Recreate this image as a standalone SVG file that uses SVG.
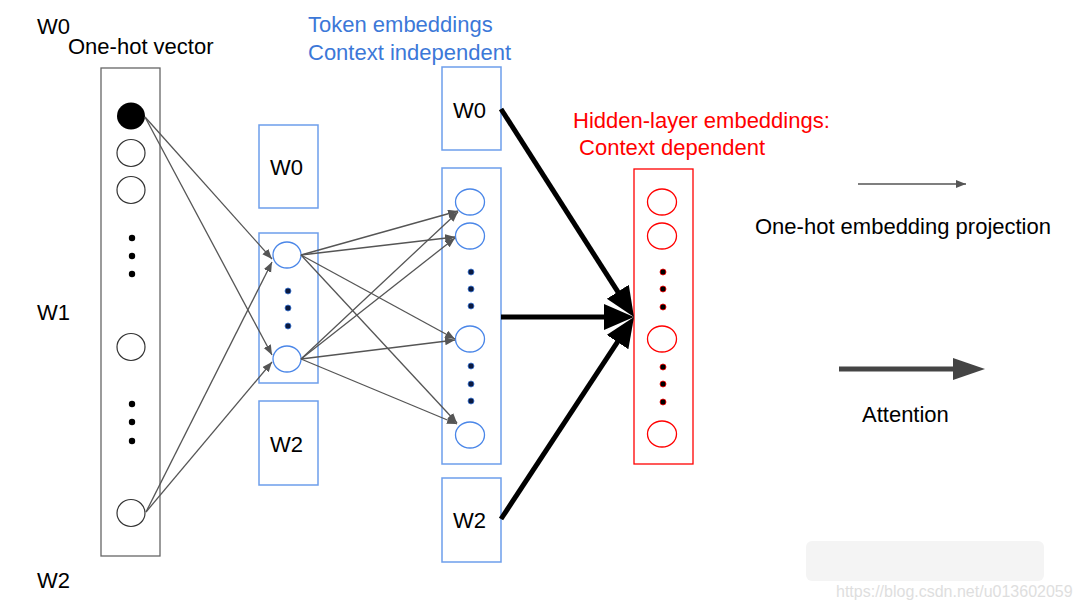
<svg xmlns="http://www.w3.org/2000/svg" width="1080" height="611" viewBox="0 0 1080 611">
<defs>
<style>
text{font-family:"Liberation Sans",Arial,sans-serif;font-size:22px;fill:#000}
.blue{fill:#3c78d8}
.red{fill:#ff0000}
.boxk{fill:none;stroke:#666;stroke-width:1.3}
.boxb{fill:#fff;stroke:#6d9eeb;stroke-width:1.5}
.boxr{fill:#fff;stroke:#ff0000;stroke-width:1.3}
.ck{fill:#fff;stroke:#333;stroke-width:1.2}
.cb{fill:#fff;stroke:#4a86e8;stroke-width:1.3}
.cr{fill:#fff;stroke:#ff0000;stroke-width:1.3}
.dk{fill:#000}
.db{fill:#0b1a40;stroke:#3c78d8;stroke-width:0.8}
.dr{fill:#000;stroke:#ff0000;stroke-width:0.8}
.thin{fill:none;stroke:#555;stroke-width:1.3;marker-end:url(#ah)}
.thick{fill:none;stroke:#000;stroke-width:5;marker-end:url(#bh)}
</style>
<marker id="ah" markerUnits="userSpaceOnUse" markerWidth="11" markerHeight="9" refX="10" refY="4" orient="auto">
<path d="M0,0 L10,4 L0,8 z" fill="#555"/>
</marker>
<marker id="bh" markerUnits="userSpaceOnUse" markerWidth="32" markerHeight="28" refX="10" refY="13" orient="auto">
<path d="M0,0 L30,13 L0,26 z" fill="#000"/>
</marker>
</defs>
<rect width="1080" height="611" fill="#fff"/>

<g id="labels">
<text x="37" y="34">W0</text>
<text x="68" y="54">One-hot vector</text>
<text x="37" y="320">W1</text>
<text x="37" y="588">W2</text>
<text class="blue" x="308" y="32">Token embeddings</text>
<text class="blue" x="308" y="60">Context independent</text>
<text class="red" x="573" y="128">Hidden-layer embeddings:</text>
<text class="red" x="573" y="155" xml:space="preserve"> Context dependent</text>
</g>

<g id="onehot">
<rect class="boxk" x="101" y="68" width="59" height="488"/>
<ellipse cx="131" cy="116" rx="14" ry="13.5" fill="#000"/>
<ellipse class="ck" cx="131" cy="153" rx="14" ry="13.5"/>
<ellipse class="ck" cx="131" cy="190" rx="14" ry="13.5"/>
<circle class="dk" cx="132" cy="238" r="3.2"/>
<circle class="dk" cx="132" cy="256" r="3.2"/>
<circle class="dk" cx="132" cy="274" r="3.2"/>
<ellipse class="ck" cx="131" cy="347" rx="14" ry="13.5"/>
<circle class="dk" cx="132" cy="404" r="3.2"/>
<circle class="dk" cx="132" cy="422" r="3.2"/>
<circle class="dk" cx="132" cy="441" r="3.2"/>
<ellipse class="ck" cx="131" cy="513" rx="14" ry="13.5"/>
</g>

<g id="proj-w0"><rect class="boxb" x="259" y="125" width="59" height="83"/><text x="270" y="175">W0</text></g>
<g id="proj-w1">
<rect class="boxb" x="259" y="233" width="59" height="150"/>
<ellipse class="cb" cx="287" cy="255" rx="14" ry="13"/>
<circle class="db" cx="288" cy="291" r="3"/>
<circle class="db" cx="288" cy="308" r="3"/>
<circle class="db" cx="288" cy="326" r="3"/>
<ellipse class="cb" cx="287" cy="359" rx="14" ry="13"/>
</g>
<g id="proj-w2"><rect class="boxb" x="259" y="401" width="59" height="84"/><text x="270" y="452">W2</text></g>

<g id="tok-w0"><rect class="boxb" x="442" y="67" width="59" height="83"/><text x="453" y="118">W0</text></g>
<g id="tok-w1">
<rect class="boxb" x="442" y="168" width="59" height="296"/>
<ellipse class="cb" cx="470" cy="202" rx="14.5" ry="13"/>
<ellipse class="cb" cx="470" cy="236" rx="14.5" ry="13"/>
<circle class="db" cx="471" cy="272" r="3"/>
<circle class="db" cx="471" cy="289" r="3"/>
<circle class="db" cx="471" cy="306" r="3"/>
<ellipse class="cb" cx="470" cy="339" rx="14.5" ry="13"/>
<circle class="db" cx="471" cy="366" r="3"/>
<circle class="db" cx="471" cy="384" r="3"/>
<circle class="db" cx="471" cy="401" r="3"/>
<ellipse class="cb" cx="470" cy="435" rx="14.5" ry="13"/>
</g>
<g id="tok-w2"><rect class="boxb" x="442" y="478" width="59" height="84"/><text x="453" y="528">W2</text></g>

<g id="hidden">
<rect class="boxr" x="634" y="169" width="59" height="295"/>
<ellipse class="cr" cx="662" cy="202" rx="14.5" ry="13"/>
<ellipse class="cr" cx="662" cy="236" rx="14.5" ry="13"/>
<circle class="dr" cx="663" cy="272" r="3"/>
<circle class="dr" cx="663" cy="289" r="3"/>
<circle class="dr" cx="663" cy="307" r="3"/>
<ellipse class="cr" cx="662" cy="339" rx="14.5" ry="13"/>
<circle class="dr" cx="663" cy="367" r="3"/>
<circle class="dr" cx="663" cy="384" r="3"/>
<circle class="dr" cx="663" cy="402" r="3"/>
<ellipse class="cr" cx="662" cy="434" rx="14.5" ry="13"/>
</g>

<g id="connectors">
<line class="thin" x1="145" y1="117" x2="272" y2="259"/>
<line class="thin" x1="145" y1="117" x2="272" y2="355"/>
<line class="thin" x1="146" y1="512" x2="272" y2="262"/>
<line class="thin" x1="146" y1="512" x2="272" y2="362"/>
<line class="thin" x1="301" y1="255" x2="458" y2="211"/>
<line class="thin" x1="301" y1="255" x2="455" y2="237"/>
<line class="thin" x1="301" y1="255" x2="455" y2="339"/>
<line class="thin" x1="301" y1="255" x2="457" y2="423"/>
<line class="thin" x1="301" y1="359" x2="458" y2="212"/>
<line class="thin" x1="301" y1="359" x2="455" y2="238"/>
<line class="thin" x1="301" y1="359" x2="455" y2="340"/>
<line class="thin" x1="301" y1="359" x2="457" y2="424"/>
<line class="thick" x1="501" y1="109" x2="623.2" y2="300.2"/>
<line class="thick" x1="501" y1="317" x2="614" y2="317"/>
<line class="thick" x1="501" y1="519" x2="623" y2="333.7"/>
</g>

<g id="legend">
<line class="thin" x1="858" y1="184" x2="966" y2="184"/>
<text x="755" y="234">One-hot embedding projection</text>
<line x1="839" y1="369" x2="955" y2="369" stroke="#444" stroke-width="5"/>
<path d="M953,358 L985,369 L953,380 z" fill="#444"/>
<text x="862" y="422">Attention</text>
</g>

<g id="watermark">
<rect x="806" y="541" width="238" height="40" rx="6" fill="#f4f4f4"/>
<text x="836" y="597" style="font-size:16px;fill:#dedede">https://blog.csdn.net/u013602059</text>
</g>
</svg>
